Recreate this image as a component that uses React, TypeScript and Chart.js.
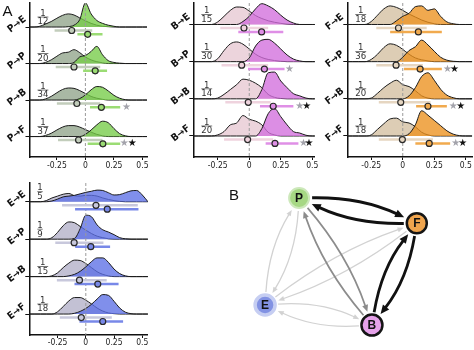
import React, { useEffect, useRef } from "react";
import { Chart, registerables } from "chart.js";

Chart.register(...registerables);

const NARROW = "'Liberation Sans Narrow', 'DejaVu Sans Condensed', 'Liberation Sans', Arial, sans-serif";
const SANS = "'Liberation Sans', Arial, sans-serif";

// density grid (x values) and axis ticks
const GRID = [-0.5, -0.45, -0.4, -0.35, -0.3, -0.25, -0.2, -0.15, -0.1, -0.05, 0, 0.05, 0.1, 0.15, 0.2, 0.25, 0.3, 0.35, 0.4, 0.45, 0.5, 0.55];
const X_TICKS = [-0.25, 0, 0.25, 0.5];

// ---------- P panel ----------
const P_LABELS = ["P→E", "P→P", "P→B", "P→F"];
const P_DENOM = [12, 20, 34, 37];
const P_E_NULL = [0, 0, 0.02, 0.08, 0.15, 0.24, 0.32, 0.36, 0.33, 0.25, 0.17, 0.1, 0.05, 0.02, 0.01, 0, 0, 0, 0, 0, 0, 0];
const P_E_OBS = [0, 0, 0, 0, 0, 0, 0, 0.01, 0.05, 0.2, 0.66, 0.36, 0.18, 0.1, 0.05, 0.02, 0, 0, 0, 0, 0, 0];
const P_P_NULL = [0, 0, 0, 0.03, 0.1, 0.2, 0.29, 0.31, 0.38, 0.3, 0.18, 0.1, 0.05, 0.02, 0, 0, 0, 0, 0, 0, 0, 0];
const P_P_OBS = [0, 0, 0, 0, 0, 0, 0, 0, 0.03, 0.18, 0.22, 0.33, 0.47, 0.24, 0.08, 0.03, 0.01, 0, 0, 0, 0, 0];
const P_B_NULL = [0, 0, 0, 0.03, 0.1, 0.2, 0.29, 0.33, 0.32, 0.26, 0.18, 0.1, 0.05, 0.02, 0, 0, 0, 0, 0, 0, 0, 0];
const P_B_OBS = [0, 0, 0, 0, 0, 0, 0, 0, 0, 0.04, 0.14, 0.28, 0.37, 0.35, 0.25, 0.13, 0.05, 0.01, 0, 0, 0, 0];
const P_F_NULL = [0, 0, 0, 0.03, 0.09, 0.18, 0.26, 0.3, 0.3, 0.26, 0.19, 0.12, 0.06, 0.02, 0, 0, 0, 0, 0, 0, 0, 0];
const P_F_OBS = [0, 0, 0, 0, 0, 0, 0, 0, 0, 0, 0.06, 0.18, 0.32, 0.42, 0.38, 0.22, 0.08, 0.02, 0, 0, 0, 0];
const P_NULL_LO = [-0.27, -0.26, -0.25, -0.24];
const P_NULL_HI = [0.06, 0.13, 0.13, 0.15];
const P_NULL_MEAN = [-0.12, -0.1, -0.075, -0.06];
const P_OBS_LO = [-0.07, -0.02, 0.04, 0.02];
const P_OBS_HI = [0.15, 0.19, 0.305, 0.305];
const P_OBS_MEAN = [0.02, 0.086, 0.14, 0.153];
const P_STAR_GRAY = [null, null, 0.36, 0.34];
const P_STAR_BLACK = [null, null, null, 0.41];

// ---------- B panel ----------
const B_LABELS = ["B→E", "B→P", "B→B", "B→F"];
const B_DENOM = [15, 30, 14, 20];
const B_E_NULL = [0, 0, 0, 0, 0, 0.07, 0.22, 0.38, 0.47, 0.46, 0.36, 0.24, 0.16, 0.1, 0.06, 0.03, 0.01, 0, 0, 0, 0, 0];
const B_E_OBS = [0, 0, 0, 0, 0, 0, 0, 0, 0, 0.08, 0.22, 0.42, 0.56, 0.5, 0.4, 0.25, 0.12, 0.04, 0, 0, 0, 0];
const B_P_NULL = [0, 0, 0, 0, 0, 0.08, 0.3, 0.48, 0.53, 0.47, 0.34, 0.2, 0.11, 0.06, 0.03, 0.01, 0, 0, 0, 0, 0, 0];
const B_P_OBS = [0, 0, 0, 0, 0, 0, 0, 0, 0, 0, 0.1, 0.42, 0.58, 0.6, 0.5, 0.34, 0.18, 0.07, 0.02, 0, 0, 0];
const B_B_NULL = [0, 0, 0, 0, 0, 0.02, 0.12, 0.25, 0.38, 0.53, 0.5, 0.42, 0.3, 0.12, 0.04, 0.01, 0, 0, 0, 0, 0, 0];
const B_B_OBS = [0, 0, 0, 0, 0, 0, 0, 0, 0, 0, 0, 0, 0.25, 0.7, 0.72, 0.48, 0.3, 0.14, 0.08, 0.02, 0, 0];
const B_F_NULL = [0, 0, 0, 0, 0, 0.03, 0.12, 0.3, 0.35, 0.55, 0.45, 0.4, 0.3, 0.1, 0.03, 0, 0, 0, 0, 0, 0, 0];
const B_F_OBS = [0, 0, 0, 0, 0, 0, 0, 0, 0, 0, 0, 0, 0.2, 0.6, 0.74, 0.52, 0.3, 0.12, 0.08, 0.02, 0, 0];
const B_NULL_LO = [-0.23, -0.22, -0.19, -0.2];
const B_NULL_HI = [0.15, 0.15, 0.17, 0.19];
const B_NULL_MEAN = [-0.042, -0.06, -0.008, -0.013];
const B_OBS_LO = [-0.087, -0.01, 0.085, 0.13];
const B_OBS_HI = [0.27, 0.28, 0.35, 0.39];
const B_OBS_MEAN = [0.098, 0.12, 0.19, 0.204];
const B_STAR_GRAY = [null, 0.32, 0.4, 0.43];
const B_STAR_BLACK = [null, null, 0.455, 0.474];

// ---------- F panel ----------
const F_LABELS = ["F→E", "F→P", "F→B", "F→F"];
const F_DENOM = [18, 36, 20, 18];
const F_E_NULL = [0, 0, 0, 0, 0, 0.08, 0.25, 0.42, 0.5, 0.46, 0.38, 0.28, 0.2, 0.12, 0.06, 0.02, 0, 0, 0, 0, 0, 0];
const F_E_OBS = [0, 0, 0, 0, 0, 0, 0, 0, 0, 0.1, 0.22, 0.3, 0.48, 0.5, 0.38, 0.42, 0.22, 0.07, 0.02, 0, 0, 0];
const F_P_NULL = [0, 0, 0, 0, 0, 0.06, 0.2, 0.38, 0.48, 0.44, 0.33, 0.2, 0.1, 0.05, 0.02, 0, 0, 0, 0, 0, 0, 0];
const F_P_OBS = [0, 0, 0, 0, 0, 0, 0, 0, 0, 0, 0.12, 0.3, 0.4, 0.58, 0.45, 0.28, 0.12, 0.04, 0.01, 0, 0, 0];
const F_B_NULL = [0, 0, 0, 0, 0, 0.02, 0.15, 0.3, 0.42, 0.5, 0.38, 0.33, 0.22, 0.08, 0.02, 0, 0, 0, 0, 0, 0, 0];
const F_B_OBS = [0, 0, 0, 0, 0, 0, 0, 0, 0, 0, 0, 0.08, 0.3, 0.6, 0.7, 0.5, 0.26, 0.1, 0.03, 0, 0, 0];
const F_F_NULL = [0, 0, 0, 0, 0, 0.03, 0.18, 0.33, 0.46, 0.48, 0.38, 0.35, 0.25, 0.1, 0.03, 0, 0, 0, 0, 0, 0, 0];
const F_F_OBS = [0, 0, 0, 0, 0, 0, 0, 0, 0, 0, 0, 0.06, 0.3, 0.68, 0.56, 0.42, 0.28, 0.14, 0.05, 0.01, 0, 0];
const F_NULL_LO = [-0.21, -0.21, -0.19, -0.19];
const F_NULL_HI = [0.19, 0.16, 0.22, 0.24];
const F_NULL_MEAN = [-0.034, -0.053, -0.016, -0.003];
const F_OBS_LO = [-0.1, 0.01, 0.106, 0.1];
const F_OBS_HI = [0.31, 0.31, 0.35, 0.376];
const F_OBS_MEAN = [0.124, 0.138, 0.2, 0.21];
const F_STAR_GRAY = [null, 0.355, 0.4, 0.42];
const F_STAR_BLACK = [null, 0.41, 0.46, 0.476];

// ---------- E panel ----------
const E_LABELS = ["E→E", "E→P", "E→B", "E→F"];
const E_DENOM = [5, 9, 15, 18];
const E_E_NULL = [0, 0, 0, 0.03, 0.1, 0.15, 0.2, 0.22, 0.16, 0.15, 0.17, 0.17, 0.15, 0.1, 0.06, 0.03, 0.01, 0, 0, 0, 0, 0];
const E_E_OBS = [0, 0, 0, 0, 0.02, 0.07, 0.13, 0.15, 0.17, 0.21, 0.25, 0.28, 0.31, 0.3, 0.24, 0.18, 0.19, 0.24, 0.29, 0.3, 0.18, 0];
const E_P_NULL = [0, 0, 0, 0, 0.04, 0.18, 0.36, 0.46, 0.44, 0.34, 0.24, 0.15, 0.08, 0.04, 0.01, 0, 0, 0, 0, 0, 0, 0];
const E_P_OBS = [0, 0, 0, 0, 0, 0, 0, 0, 0.02, 0.28, 0.64, 0.6, 0.38, 0.25, 0.19, 0.12, 0.04, 0.01, 0, 0, 0, 0];
const E_B_NULL = [0, 0, 0, 0, 0.02, 0.1, 0.24, 0.36, 0.44, 0.43, 0.35, 0.24, 0.13, 0.06, 0.02, 0, 0, 0, 0, 0, 0, 0];
const E_B_OBS = [0, 0, 0, 0, 0, 0, 0, 0.02, 0.06, 0.14, 0.26, 0.4, 0.5, 0.5, 0.38, 0.2, 0.08, 0.02, 0, 0, 0, 0];
const E_F_NULL = [0, 0, 0, 0, 0, 0.06, 0.2, 0.35, 0.44, 0.44, 0.37, 0.27, 0.16, 0.08, 0.03, 0.01, 0, 0, 0, 0, 0, 0];
const E_F_OBS = [0, 0, 0, 0, 0, 0, 0, 0, 0.02, 0.07, 0.15, 0.26, 0.4, 0.52, 0.5, 0.34, 0.16, 0.05, 0.01, 0, 0, 0];
const E_NULL_LO = [-0.21, -0.27, -0.256, -0.23];
const E_NULL_HI = [0.46, 0.156, 0.185, 0.23];
const E_NULL_MEAN = [0.09, -0.103, -0.056, -0.04];
const E_OBS_LO = [-0.095, -0.094, -0.1, -0.056];
const E_OBS_HI = [0.466, 0.215, 0.29, 0.33];
const E_OBS_MEAN = [0.19, 0.044, 0.106, 0.15];
const E_STAR_GRAY = [null, null, null, null];
const E_STAR_BLACK = [null, null, null, null];

// ---------- network (panel B) ----------
const NODE_IDS = ["P", "F", "E", "B"];
const NODE_X = [3.06, 7.73, 1.71, 5.95];
const NODE_Y = [8.54, 7.12, 2.53, 1.4];
const EDGE_FROM = ["E", "P", "E", "F", "E", "B", "P", "B", "P", "F", "B", "F"];
const EDGE_TO = ["P", "E", "F", "E", "B", "E", "B", "P", "F", "P", "F", "B"];
const EDGE_LEVEL = [0, 0, 0, 0, 0, 0, 1, 1, 2, 2, 2, 2];

// styles
const NODE_FILL = ["#a6d884", "#f0a54e", "#8292e3", "#e6a2ea"];
const NODE_BORDER = ["#cde8bb", "#151515", "#c6cef2", "#151515"];
const NODE_BORDER_W = [2, 2.5, 3.5, 2.5];
const NODE_R = [10, 10, 10, 10.5];
const EDGE_STYLE = [
  { color: "#d2d2d2", width: 1.3, head: 6, headW: 5 },
  { color: "#8c8c8c", width: 1.7, head: 7, headW: 6 },
  { color: "#111111", width: 2.8, head: 9, headW: 8 },
];

const PANELS = [
  {
    key: "P", labels: P_LABELS, denom: P_DENOM,
    nulls: [P_E_NULL, P_P_NULL, P_B_NULL, P_F_NULL], obs: [P_E_OBS, P_P_OBS, P_B_OBS, P_F_OBS],
    nullLo: P_NULL_LO, nullHi: P_NULL_HI, nullMean: P_NULL_MEAN,
    obsLo: P_OBS_LO, obsHi: P_OBS_HI, obsMean: P_OBS_MEAN,
    starGray: P_STAR_GRAY, starBlack: P_STAR_BLACK,
    nullFill: "#a9b8a4", obsFill: "rgba(118,204,72,0.78)", nullLine: "#c2cdbb", obsLine: "#9bdc74",
    box: { left: 0, top: 0, w: 152, h: 178 }, pad: { left: 25.5, top: 3, right: 5, bottom: 5 },
    axisH: 16, tickPad: 1, xMin: -0.49, xMax: 0.54, yMin: -0.658, yMax: 3.56, panelLetter: "A",
  },
  {
    key: "B", labels: B_LABELS, denom: B_DENOM,
    nulls: [B_E_NULL, B_P_NULL, B_B_NULL, B_F_NULL], obs: [B_E_OBS, B_P_OBS, B_B_OBS, B_F_OBS],
    nullLo: B_NULL_LO, nullHi: B_NULL_HI, nullMean: B_NULL_MEAN,
    obsLo: B_OBS_LO, obsHi: B_OBS_HI, obsMean: B_OBS_MEAN,
    starGray: B_STAR_GRAY, starBlack: B_STAR_BLACK,
    nullFill: "#ecd4dc", obsFill: "rgba(210,110,220,0.78)", nullLine: "#efd3de", obsLine: "#df8fe6",
    box: { left: 168, top: 0, w: 152, h: 178 }, pad: { left: 21.3, top: 3, right: 5.2, bottom: 5 },
    axisH: 16, tickPad: 1, xMin: -0.444, xMax: 0.52, yMin: -0.578, yMax: 3.565, panelLetter: "",
  },
  {
    key: "F", labels: F_LABELS, denom: F_DENOM,
    nulls: [F_E_NULL, F_P_NULL, F_B_NULL, F_F_NULL], obs: [F_E_OBS, F_P_OBS, F_B_OBS, F_F_OBS],
    nullLo: F_NULL_LO, nullHi: F_NULL_HI, nullMean: F_NULL_MEAN,
    obsLo: F_OBS_LO, obsHi: F_OBS_HI, obsMean: F_OBS_MEAN,
    starGray: F_STAR_GRAY, starBlack: F_STAR_BLACK,
    nullFill: "#ddcdb5", obsFill: "rgba(236,145,30,0.78)", nullLine: "#e6d6c1", obsLine: "#f1aa4e",
    box: { left: 322, top: 0, w: 152, h: 178 }, pad: { left: 21.3, top: 3, right: 1.3, bottom: 5 },
    axisH: 16, tickPad: 1, xMin: -0.44, xMax: 0.555, yMin: -0.578, yMax: 3.565, panelLetter: "",
  },
  {
    key: "E", labels: E_LABELS, denom: E_DENOM,
    nulls: [E_E_NULL, E_P_NULL, E_B_NULL, E_F_NULL], obs: [E_E_OBS, E_P_OBS, E_B_OBS, E_F_OBS],
    nullLo: E_NULL_LO, nullHi: E_NULL_HI, nullMean: E_NULL_MEAN,
    obsLo: E_OBS_LO, obsHi: E_OBS_HI, obsMean: E_OBS_MEAN,
    starGray: E_STAR_GRAY, starBlack: E_STAR_BLACK,
    nullFill: "#c3c1d4", obsFill: "rgba(92,112,230,0.78)", nullLine: "#c8c8dc", obsLine: "#7888e8",
    box: { left: 0, top: 178, w: 160, h: 172 }, pad: { left: 25.3, top: 5, right: 12.05, bottom: 0 },
    axisH: 15, tickPad: 0, xMin: -0.5, xMax: 0.55, yMin: -0.5, yMax: 3.56, panelLetter: "",
  },
];

const NULL_OFF = 0.095;
const OBS_OFF = 0.2;

function densityDataset(row: number, h: number[], fillColor: string, order: number) {
  return {
    type: "line",
    data: GRID.map((x, k) => ({ x, y: row - h[k] })),
    fill: { value: row },
    backgroundColor: fillColor,
    borderColor: "#1c1c1c",
    borderWidth: 1,
    pointRadius: 0,
    cubicInterpolationMode: "monotone",
    order,
  };
}

function buildRidge(canvas: HTMLCanvasElement, p: any) {
  const datasets: any[] = [];
  // means (top)
  datasets.push({
    type: "line", showLine: false, order: -1,
    data: p.nullMean.map((m: number, i: number) => ({ x: m, y: i + NULL_OFF })),
    pointRadius: 3, pointBackgroundColor: p.nullLine, pointBorderColor: "#2a2a2a", pointBorderWidth: 1.2,
  });
  datasets.push({
    type: "line", showLine: false, order: -1,
    data: p.obsMean.map((m: number, i: number) => ({ x: m, y: i + OBS_OFF })),
    pointRadius: 3, pointBackgroundColor: p.obsLine, pointBorderColor: "#2a2a2a", pointBorderWidth: 1.2,
  });
  p.labels.forEach((_: string, i: number) => {
    datasets.push({
      type: "line", order: 0, pointRadius: 0, borderColor: p.nullLine, borderWidth: 2.5, borderCapStyle: "butt",
      data: [{ x: p.nullLo[i], y: i + NULL_OFF }, { x: p.nullHi[i], y: i + NULL_OFF }],
    });
    datasets.push({
      type: "line", order: 0, pointRadius: 0, borderColor: p.obsLine, borderWidth: 2.5, borderCapStyle: "butt",
      data: [{ x: p.obsLo[i], y: i + OBS_OFF }, { x: p.obsHi[i], y: i + OBS_OFF }],
    });
  });
  // zero line
  datasets.push({
    type: "line", order: 1, pointRadius: 0, borderColor: "#9a9a9a", borderWidth: 1, borderDash: [3, 2],
    data: [{ x: 0, y: p.yMin }, { x: 0, y: p.yMax }],
  });
  p.labels.forEach((_: string, i: number) => {
    datasets.push(densityDataset(i, p.obs[i], p.obsFill, 2));
    datasets.push(densityDataset(i, p.nulls[i], p.nullFill, 3));
  });

  const plugin = {
    id: "ridge" + p.key,
    afterDraw(chart: any) {
      const { ctx, chartArea, scales } = chart;
      const xs = scales.x, ys = scales.y;
      ctx.save();
      // fractions
      p.denom.forEach((d: number, i: number) => {
        const py = ys.getPixelForValue(i);
        const x0 = chartArea.left + 8;
        ctx.font = `9.5px ${NARROW}`;
        const txt = String(d);
        const w = ctx.measureText(txt).width;
        ctx.fillStyle = "#333";
        ctx.textAlign = "center";
        ctx.textBaseline = "alphabetic";
        ctx.fillText("1", x0 + w / 2, py - 11.3);
        ctx.fillStyle = "#555";
        ctx.fillRect(x0, py - 10.4, w, 0.8);
        ctx.fillStyle = "#333";
        ctx.fillText(txt, x0 + w / 2, py - 2.6);
      });
      // row labels
      p.labels.forEach((lab: string, i: number) => {
        const py = ys.getPixelForValue(i);
        ctx.save();
        ctx.translate(chartArea.left - 12.5, py - 2.5);
        ctx.rotate((-38 * Math.PI) / 180);
        ctx.font = `bold 10px ${NARROW}`;
        ctx.fillStyle = "#111";
        ctx.textAlign = "center";
        ctx.textBaseline = "middle";
        ctx.fillText(lab, 0, 0);
        ctx.restore();
      });
      // stars
      ctx.font = "10px 'DejaVu Sans'";
      ctx.textAlign = "center";
      ctx.textBaseline = "middle";
      p.labels.forEach((_: string, i: number) => {
        const py = ys.getPixelForValue(i + OBS_OFF);
        if (p.starGray[i] != null) {
          ctx.fillStyle = "#a3a3ab";
          ctx.fillText("★", xs.getPixelForValue(p.starGray[i]), py);
        }
        if (p.starBlack[i] != null) {
          ctx.fillStyle = "#111";
          ctx.fillText("★", xs.getPixelForValue(p.starBlack[i]), py);
        }
      });
      if (p.panelLetter) {
        ctx.font = `15px ${SANS}`;
        ctx.fillStyle = "#111";
        ctx.textAlign = "center";
        ctx.textBaseline = "middle";
        ctx.fillText(p.panelLetter, 7.5, 12);
      }
      ctx.restore();
    },
  };

  return new Chart(canvas, {
    type: "line",
    data: { datasets },
    options: {
      responsive: false,
      animation: false,
      events: [],
      layout: { padding: p.pad, autoPadding: false },
      plugins: { legend: { display: false }, tooltip: { enabled: false } },
      scales: {
        x: {
          type: "linear", min: p.xMin, max: p.xMax,
          afterBuildTicks: (s: any) => { s.ticks = X_TICKS.map((v) => ({ value: v })); },
          afterFit: (s: any) => { s.height = p.axisH; },
          ticks: { callback: (v: any) => String(v), font: { family: NARROW, size: 8.5 }, color: "#222", padding: p.tickPad, maxRotation: 0, autoSkip: false },
          grid: { drawOnChartArea: false, tickLength: 3, color: "#111", lineWidth: 1 },
          border: { color: "#111", width: 1.5 },
        },
        y: {
          type: "linear", reverse: true, min: p.yMin, max: p.yMax,
          afterBuildTicks: (s: any) => { s.ticks = p.labels.map((_: string, i: number) => ({ value: i })); },
          afterFit: (s: any) => { s.width = 4; },
          ticks: { display: false },
          grid: { drawOnChartArea: false, tickLength: 4, color: "#111", lineWidth: 1 },
          border: { color: "#111", width: 1.5 },
        },
      },
    } as any,
    plugins: [plugin],
  } as any);
}

function buildNetwork(canvas: HTMLCanvasElement) {
  const plugin = {
    id: "net",
    beforeDatasetsDraw(chart: any) {
      const { ctx, scales } = chart;
      const pos = (id: string) => {
        const k = NODE_IDS.indexOf(id);
        return { x: scales.x.getPixelForValue(NODE_X[k]), y: scales.y.getPixelForValue(NODE_Y[k]) };
      };
      ctx.save();
      [0, 1, 2].forEach((lvl) => {
        const st = EDGE_STYLE[lvl];
        EDGE_FROM.forEach((f, e) => {
          if (EDGE_LEVEL[e] !== lvl) return;
          const a = pos(f), b = pos(EDGE_TO[e]);
          const dx = b.x - a.x, dy = b.y - a.y;
          const len = Math.hypot(dx, dy);
          const nx = dy / len, ny = -dx / len;
          const c = { x: (a.x + b.x) / 2 + nx * 14, y: (a.y + b.y) / 2 + ny * 14 };
          const da = Math.hypot(c.x - a.x, c.y - a.y), db = Math.hypot(c.x - b.x, c.y - b.y);
          const s = { x: a.x + ((c.x - a.x) / da) * 13, y: a.y + ((c.y - a.y) / da) * 13 };
          const tip = { x: b.x + ((c.x - b.x) / db) * 14, y: b.y + ((c.y - b.y) / db) * 14 };
          const tl = Math.hypot(tip.x - c.x, tip.y - c.y);
          const tx = (tip.x - c.x) / tl, ty = (tip.y - c.y) / tl;
          const base = { x: tip.x - tx * st.head, y: tip.y - ty * st.head };
          ctx.strokeStyle = st.color;
          ctx.fillStyle = st.color;
          ctx.lineWidth = st.width;
          ctx.lineCap = "butt";
          ctx.beginPath();
          ctx.moveTo(s.x, s.y);
          ctx.quadraticCurveTo(c.x, c.y, base.x + tx * 1, base.y + ty * 1);
          ctx.stroke();
          ctx.beginPath();
          ctx.moveTo(tip.x, tip.y);
          ctx.lineTo(base.x - ty * st.headW / 2, base.y + tx * st.headW / 2);
          ctx.lineTo(base.x + ty * st.headW / 2, base.y - tx * st.headW / 2);
          ctx.closePath();
          ctx.fill();
        });
      });
      ctx.restore();
    },
    afterDatasetsDraw(chart: any) {
      const { ctx, scales, chartArea } = chart;
      ctx.save();
      ctx.font = `bold 12px ${SANS}`;
      ctx.fillStyle = "#111";
      ctx.textAlign = "center";
      ctx.textBaseline = "middle";
      NODE_IDS.forEach((id, k) => {
        ctx.fillText(id, scales.x.getPixelForValue(NODE_X[k]), scales.y.getPixelForValue(NODE_Y[k]) + 0.5);
      });
      ctx.font = `15px ${SANS}`;
      ctx.fillText("B", chartArea.left + 12, chartArea.top + 24);
      ctx.restore();
    },
  };
  return new Chart(canvas, {
    type: "scatter",
    data: {
      datasets: [{
        data: NODE_X.map((x, i) => ({ x, y: NODE_Y[i] })),
        pointRadius: NODE_R, pointBackgroundColor: NODE_FILL, pointBorderColor: NODE_BORDER, pointBorderWidth: NODE_BORDER_W,
        clip: false,
      }],
    },
    options: {
      responsive: false, animation: false, events: [],
      layout: { padding: 0, autoPadding: false },
      plugins: { legend: { display: false }, tooltip: { enabled: false } },
      scales: { x: { type: "linear", min: 0, max: 10, display: false }, y: { type: "linear", min: 0, max: 10, display: false } },
    } as any,
    plugins: [plugin],
  } as any);
}

function ChartCanvas({ box, build }: { box: any; build: (c: HTMLCanvasElement) => Chart }) {
  const ref = useRef<HTMLCanvasElement>(null);
  useEffect(() => {
    const chart = build(ref.current!);
    return () => chart.destroy();
  }, []);
  return (
    <canvas
      ref={ref}
      width={box.w}
      height={box.h}
      style={{ position: "absolute", left: box.left, top: box.top, width: box.w, height: box.h }}
    />
  );
}

const NET_BOX = { left: 222, top: 172, w: 252, h: 178 };

export default function App() {
  return (
    <div style={{ position: "absolute", left: 0, top: 0, width: 474, height: 350, background: "#fff", overflow: "hidden" }}>
      {PANELS.map((p) => (
        <ChartCanvas key={p.key} box={p.box} build={(c) => buildRidge(c, p)} />
      ))}
      <ChartCanvas box={NET_BOX} build={buildNetwork} />
    </div>
  );
}
